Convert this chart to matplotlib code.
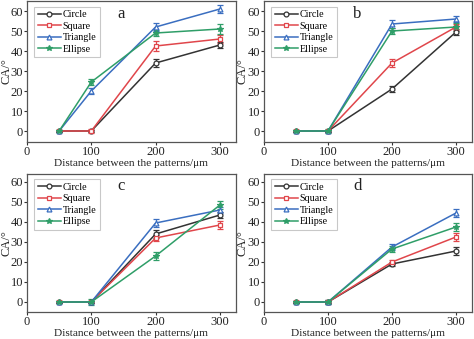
import numpy as np
import matplotlib
matplotlib.use('Agg')
import matplotlib.pyplot as plt
from matplotlib.lines import Line2D

plt.rcParams['font.family'] = ['Liberation Serif', 'DejaVu Serif']

# ==== contact angle data, one dict per panel
distance = [50, 100, 200, 300]
shapes = ['Circle', 'Square', 'Triangle', 'Ellipse']
panel_names = ['a', 'b', 'c', 'd']

ca_a = {'Circle': [0, 0, 34, 43], 'Square': [0, 0, 42.5, 46],
        'Triangle': [0, 20, 52, 61], 'Ellipse': [0, 24.5, 49, 51]}
err_a = {'Circle': [0.5, 0.5, 2, 1.5], 'Square': [0.5, 1, 2.5, 2],
         'Triangle': [0.5, 1.5, 2, 2], 'Ellipse': [0.5, 1.5, 1.5, 2.5]}

ca_b = {'Circle': [0, 0, 21, 49.5], 'Square': [0, 0, 34, 52],
        'Triangle': [0, 0, 53.5, 56], 'Ellipse': [0, 0, 50, 52]}
err_b = {'Circle': [0.5, 0.5, 1.5, 1.5], 'Square': [0.5, 0.5, 2, 1.5],
         'Triangle': [0.5, 0.5, 2, 1.5], 'Ellipse': [0.5, 1, 1.5, 2]}

ca_c = {'Circle': [0, 0, 34, 43.5], 'Square': [0, 0, 32, 38.5],
        'Triangle': [0, 0, 39.5, 46], 'Ellipse': [0, 0, 23, 48.5]}
err_c = {'Circle': [0.5, 0.5, 2, 1.5], 'Square': [0.5, 0.5, 1.5, 2],
         'Triangle': [0.5, 0.5, 2, 1.5], 'Ellipse': [0.5, 1.5, 2, 2]}

ca_d = {'Circle': [0, 0, 19, 25.5], 'Square': [0, 0, 20, 32.5],
        'Triangle': [0, 0, 27.5, 44.5], 'Ellipse': [0, 0, 26.5, 37.5]}
err_d = {'Circle': [0.5, 0.5, 1, 2], 'Square': [0.5, 1, 1, 2],
         'Triangle': [0.5, 1, 1.5, 2], 'Ellipse': [0.5, 1, 1.5, 2]}

panels = [(ca_a, err_a), (ca_b, err_b), (ca_c, err_c), (ca_d, err_d)]

colors = {'Circle': '#333333', 'Square': '#e0464b',
          'Triangle': '#3a6ec0', 'Ellipse': '#2f9e68'}
markers = {'Circle': 'o', 'Square': 's', 'Triangle': '^', 'Ellipse': '*'}

# axes boxes in figure fraction: left, bottom, width, height
W, H = 474, 339
boxes = [
    (27 / W, 1 - 142 / H, 209 / W, 141 / H),
    (264 / W, 1 - 142 / H, 208 / W, 141 / H),
    (27 / W, 1 - 312 / H, 209 / W, 138 / H),
    (264 / W, 1 - 312 / H, 208 / W, 138 / H),
]
ylims = [(-5.5, 65), (-5.5, 65), (-5, 64), (-5, 64)]

fig = plt.figure(figsize=(4.74, 3.39), dpi=100)

for (ca, err), name, box, ylim in zip(panels, panel_names, boxes, ylims):
    ax = fig.add_axes(box)
    ax_w, ax_h = box[2] * W, box[3] * H
    handles = []
    for s in shapes:
        c = colors[s]
        filled = s == 'Ellipse'
        style = dict(color=c, lw=1.1, marker=markers[s],
                     ms=4 if filled else 3.5, mfc=c if filled else 'white',
                     mec=c, mew=0.9)
        ax.errorbar(distance, ca[s], yerr=err[s], elinewidth=0.9,
                    capsize=2.2, capthick=0.9, **style)
        handles.append(Line2D([], [], label=s, **style))
    ax.set_xlim(0, 325)
    ax.set_ylim(*ylim)
    ax.set_xticks([0, 100, 200, 300])
    ax.set_yticks(np.arange(0, 61, 10))
    ax.tick_params(direction='out', length=2, width=0.8, labelsize=9,
                   pad=0.8, colors='#333333', labelcolor='#222222')
    for sp in ax.spines.values():
        sp.set_color('#555555')
        sp.set_linewidth(0.9)
    ax.set_xlabel('Distance between the patterns/μm', fontsize=8.2,
                  color='#222222')
    ax.xaxis.set_label_coords(0.5, -16.5 / ax_h)
    ax.set_ylabel('CA/°', fontsize=9, color='#222222')
    ax.yaxis.set_label_coords(-15 / ax_w, 0.5)
    ax.text(0.45, 0.91, name, transform=ax.transAxes, fontsize=12,
            ha='center', va='center', color='#222222')
    leg = ax.legend(handles=handles, loc='upper left',
                    bbox_to_anchor=(0.025, 0.975), fontsize=7.2,
                    frameon=True, fancybox=False, handlelength=2.3,
                    handletextpad=0.2, labelspacing=0.25, borderpad=0.35,
                    borderaxespad=0.2)
    leg.get_frame().set_edgecolor('#bbbbbb')
    leg.get_frame().set_linewidth(0.8)

fig.savefig('out.png', dpi=100)
